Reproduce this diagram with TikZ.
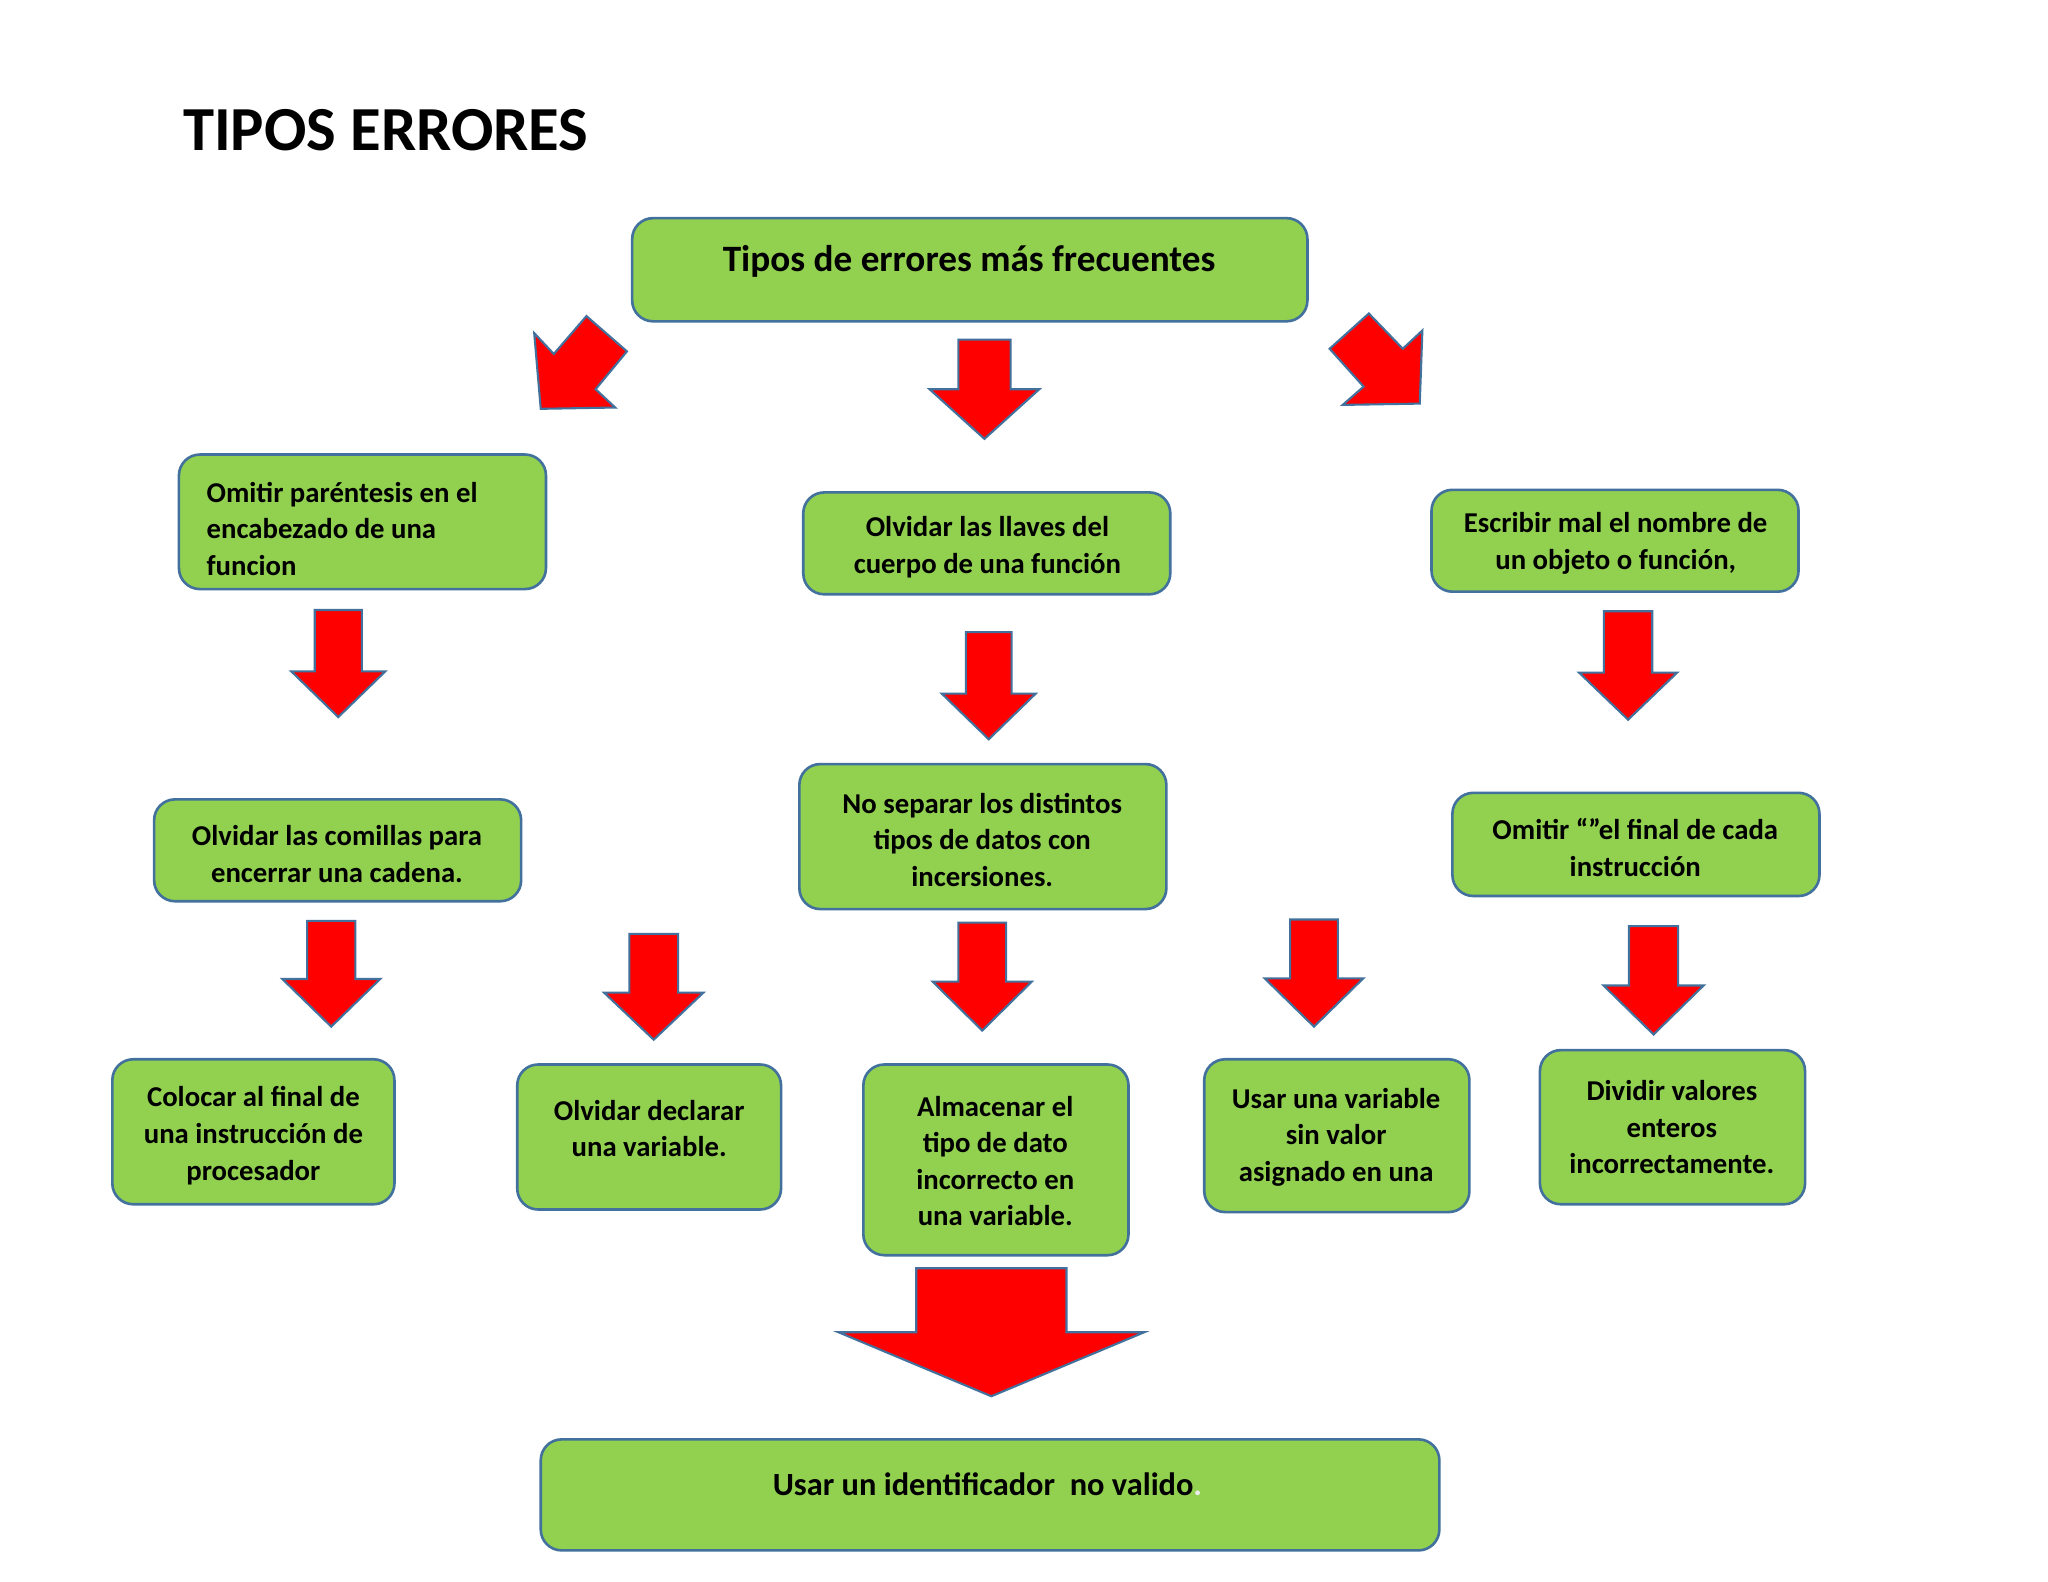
\documentclass[tikz,border=0pt]{standalone}
\usepackage{fontspec}
\setmainfont{Carlito}
\definecolor{boxgreen}{RGB}{146,208,80}
\definecolor{boxline}{RGB}{65,113,156}
\definecolor{arrred}{RGB}{255,0,0}
\tikzset{
  box/.style={draw=boxline, line width=2pt, fill=boxgreen, rounded corners=16pt},
  txt/.style={inner sep=0pt, font=\fontsize{22}{28}\selectfont\bfseries, align=center, text=black},
  redarr/.style={draw=boxline, line width=1.6pt, fill=arrred, line join=miter}
}
\newcommand\boxat[5]{\node[box, minimum width=#4-#2, minimum height=#5-#3] (#1) at ({(#2+#4)/2},{(#3+#5)/2}) {};}
\newcommand\redarrowat[6]{% x, top, shaft half, head half, base, tip
  \draw[redarr] (#1-#3,#2) -- (#1+#3,#2) -- (#1+#3,#5) -- (#1+#4,#5) -- (#1,#6) -- (#1-#4,#5) -- (#1-#3,#5) -- cycle;}
\begin{document}
\begin{tikzpicture}[x=1pt,y=-1pt]
\useasboundingbox (0,0) rectangle (1568,1211);
\fill[white] (0,0) rectangle (1568,1211);

% title
\node[inner sep=0pt, anchor=west, font=\fontsize{48}{56}\selectfont\bfseries] (title) at (140,100) {TIPOS ERRORES};

% boxes
\boxat{top}{484}{167}{1001}{246}
\node[txt, font=\fontsize{28.5}{34}\selectfont\bfseries] (ttop) at (742,200) {Tipos de errores más frecuentes};

\boxat{b1}{137}{348}{418}{451}
\node[txt, align=left, anchor=west] (tb1) at (158,405) {Omitir paréntesis en el\\encabezado de una\\funcion};

\boxat{b2}{118}{612}{399}{690}
\node[txt] (tb2) at (258,654) {Olvidar las comillas para\\encerrar una cadena.};

\boxat{b3}{86}{811}{302}{922}
\node[txt] (tb3) at (194,869.5) {Colocar al final de\\una instrucción de\\procesador};

\boxat{b4}{396}{815}{598}{926}
\node[txt] (tb4) at (497,864) {Olvidar declarar\\una variable.};

\boxat{c1}{615}{377}{896}{455}
\node[txt] (tc1) at (756,419) {Olvidar las llaves del\\cuerpo de una función};

\boxat{c2}{612}{585}{893}{696}
\node[txt] (tc2) at (752,643) {No separar los distintos\\tipos de datos con\\incersiones.};

\boxat{c3}{661}{815}{864}{961}
\node[txt] (tc3) at (762,889) {Almacenar el\\tipo de dato\\incorrecto en\\una variable.};

\boxat{d1}{922}{811}{1125}{928}
\node[txt] (td1) at (1023,870.5) {Usar una variable\\sin valor\\asignado en una};

\boxat{r1}{1096}{375}{1377}{453}
\node[txt] (tr1) at (1237,416) {Escribir mal el nombre de\\un objeto o función,};

\boxat{r2}{1112}{607}{1393}{686}
\node[txt] (tr2) at (1252,649) {Omitir “”el final de cada\\instrucción};

\boxat{r3}{1179}{804}{1382}{922}
\node[txt] (tr3) at (1280,863) {Dividir valores\\enteros\\incorrectamente.};

\boxat{bot}{414}{1102}{1102}{1187}
\node[txt, font=\fontsize{24.8}{30}\selectfont\bfseries] (tbot) at (756,1136) {Usar\ un identificador\ \ no valido{\color{white!85!gray}.}};

% diagonal arrows
\draw[redarr] (449,242) -- (480,269) -- (456,298) -- (471,312) -- (414,313) -- (409,255) -- (424,271) -- cycle;
\draw[redarr] (1048,240) -- (1074,267) -- (1089,253) -- (1087,309) -- (1028,310) -- (1044,296) -- (1018,267) -- cycle;

% vertical arrows
\redarrowat{753.7}{260}{20}{42}{298}{336}
\redarrowat{259}{467}{18}{36}{514}{549}
\redarrowat{253.6}{705}{18.5}{37.5}{749.5}{786}
\redarrowat{500.5}{715}{18.7}{38}{760}{796}
\redarrowat{757}{484}{17.5}{36}{531}{566}
\redarrowat{752}{706.4}{18.3}{38}{751.5}{789}
\redarrowat{759}{971}{57.5}{117}{1020}{1069}
\redarrowat{1006}{704}{18.3}{37.8}{749}{786}
\redarrowat{1246.5}{468}{18.5}{37.5}{515}{551}
\redarrowat{1266}{709}{18.8}{38.3}{754.5}{792}
\end{tikzpicture}
\end{document}
